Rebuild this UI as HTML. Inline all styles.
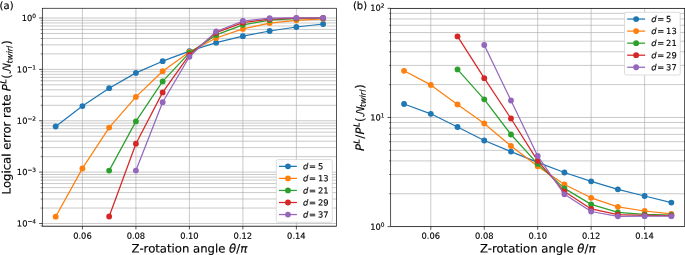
<!DOCTYPE html>
<html><head><meta charset="utf-8"><title>Figure</title>
<style>html,body{margin:0;padding:0;background:#fff}svg{display:block}text{font-family:"DejaVu Sans", "Liberation Sans", sans-serif;fill:#000;stroke:#000;stroke-width:0.15px}</style></head><body>
<svg width="685" height="255" viewBox="0 0 685 255">
<rect width="685" height="255" fill="#fff"/>
<g>
<path d="M82.42 8.25V226.25M135.91 8.25V226.25M189.40 8.25V226.25M242.89 8.25V226.25M296.38 8.25V226.25M42.30 18.00H336.50M42.30 69.38H336.50M42.30 120.76H336.50M42.30 172.14H336.50M42.30 223.52H336.50M42.30 225.87H336.50M42.30 208.05H336.50M42.30 199.01H336.50M42.30 192.59H336.50M42.30 187.61H336.50M42.30 183.54H336.50M42.30 180.10H336.50M42.30 177.12H336.50M42.30 174.49H336.50M42.30 156.67H336.50M42.30 147.63H336.50M42.30 141.21H336.50M42.30 136.23H336.50M42.30 132.16H336.50M42.30 128.72H336.50M42.30 125.74H336.50M42.30 123.11H336.50M42.30 105.29H336.50M42.30 96.25H336.50M42.30 89.83H336.50M42.30 84.85H336.50M42.30 80.78H336.50M42.30 77.34H336.50M42.30 74.36H336.50M42.30 71.73H336.50M42.30 53.91H336.50M42.30 44.87H336.50M42.30 38.45H336.50M42.30 33.47H336.50M42.30 29.40H336.50M42.30 25.96H336.50M42.30 22.98H336.50M42.30 20.35H336.50" stroke="#b0b0b0" stroke-width="0.67" fill="none"/>
<polyline points="55.67,126.50 82.42,106.10 109.16,88.20 135.91,72.90 162.65,61.20 189.40,51.20 216.15,42.70 242.89,36.20 269.64,31.00 296.38,27.00 323.13,24.00" fill="none" stroke="#1f77b4" stroke-width="1.25" stroke-linejoin="round" stroke-linecap="butt"/>
<circle cx="55.67" cy="126.50" r="2.92" fill="#1f77b4"/>
<circle cx="82.42" cy="106.10" r="2.92" fill="#1f77b4"/>
<circle cx="109.16" cy="88.20" r="2.92" fill="#1f77b4"/>
<circle cx="135.91" cy="72.90" r="2.92" fill="#1f77b4"/>
<circle cx="162.65" cy="61.20" r="2.92" fill="#1f77b4"/>
<circle cx="189.40" cy="51.20" r="2.92" fill="#1f77b4"/>
<circle cx="216.15" cy="42.70" r="2.92" fill="#1f77b4"/>
<circle cx="242.89" cy="36.20" r="2.92" fill="#1f77b4"/>
<circle cx="269.64" cy="31.00" r="2.92" fill="#1f77b4"/>
<circle cx="296.38" cy="27.00" r="2.92" fill="#1f77b4"/>
<circle cx="323.13" cy="24.00" r="2.92" fill="#1f77b4"/>
<polyline points="55.67,216.70 82.42,168.40 109.16,127.60 135.91,96.90 162.65,71.20 189.40,52.00 216.15,38.00 242.89,28.90 269.64,23.10 296.38,20.30 323.13,18.80" fill="none" stroke="#ff7f0e" stroke-width="1.25" stroke-linejoin="round" stroke-linecap="butt"/>
<circle cx="55.67" cy="216.70" r="2.92" fill="#ff7f0e"/>
<circle cx="82.42" cy="168.40" r="2.92" fill="#ff7f0e"/>
<circle cx="109.16" cy="127.60" r="2.92" fill="#ff7f0e"/>
<circle cx="135.91" cy="96.90" r="2.92" fill="#ff7f0e"/>
<circle cx="162.65" cy="71.20" r="2.92" fill="#ff7f0e"/>
<circle cx="189.40" cy="52.00" r="2.92" fill="#ff7f0e"/>
<circle cx="216.15" cy="38.00" r="2.92" fill="#ff7f0e"/>
<circle cx="242.89" cy="28.90" r="2.92" fill="#ff7f0e"/>
<circle cx="269.64" cy="23.10" r="2.92" fill="#ff7f0e"/>
<circle cx="296.38" cy="20.30" r="2.92" fill="#ff7f0e"/>
<circle cx="323.13" cy="18.80" r="2.92" fill="#ff7f0e"/>
<polyline points="109.16,170.60 135.91,121.40 162.65,81.40 189.40,52.90 216.15,34.90 242.89,24.80 269.64,20.20 296.38,18.60 323.13,18.20" fill="none" stroke="#2ca02c" stroke-width="1.25" stroke-linejoin="round" stroke-linecap="butt"/>
<circle cx="109.16" cy="170.60" r="2.92" fill="#2ca02c"/>
<circle cx="135.91" cy="121.40" r="2.92" fill="#2ca02c"/>
<circle cx="162.65" cy="81.40" r="2.92" fill="#2ca02c"/>
<circle cx="189.40" cy="52.90" r="2.92" fill="#2ca02c"/>
<circle cx="216.15" cy="34.90" r="2.92" fill="#2ca02c"/>
<circle cx="242.89" cy="24.80" r="2.92" fill="#2ca02c"/>
<circle cx="269.64" cy="20.20" r="2.92" fill="#2ca02c"/>
<circle cx="296.38" cy="18.60" r="2.92" fill="#2ca02c"/>
<circle cx="323.13" cy="18.20" r="2.92" fill="#2ca02c"/>
<polyline points="109.16,216.50 135.91,143.70 162.65,92.40 189.40,54.80 216.15,32.70 242.89,22.60 269.64,19.10 296.38,18.05 323.13,17.90" fill="none" stroke="#d62728" stroke-width="1.25" stroke-linejoin="round" stroke-linecap="butt"/>
<circle cx="109.16" cy="216.50" r="2.92" fill="#d62728"/>
<circle cx="135.91" cy="143.70" r="2.92" fill="#d62728"/>
<circle cx="162.65" cy="92.40" r="2.92" fill="#d62728"/>
<circle cx="189.40" cy="54.80" r="2.92" fill="#d62728"/>
<circle cx="216.15" cy="32.70" r="2.92" fill="#d62728"/>
<circle cx="242.89" cy="22.60" r="2.92" fill="#d62728"/>
<circle cx="269.64" cy="19.10" r="2.92" fill="#d62728"/>
<circle cx="296.38" cy="18.05" r="2.92" fill="#d62728"/>
<circle cx="323.13" cy="17.90" r="2.92" fill="#d62728"/>
<polyline points="135.91,170.60 162.65,102.20 189.40,56.80 216.15,31.50 242.89,21.00 269.64,18.20 296.38,17.85 323.13,17.85" fill="none" stroke="#9467bd" stroke-width="1.25" stroke-linejoin="round" stroke-linecap="butt"/>
<circle cx="135.91" cy="170.60" r="2.92" fill="#9467bd"/>
<circle cx="162.65" cy="102.20" r="2.92" fill="#9467bd"/>
<circle cx="189.40" cy="56.80" r="2.92" fill="#9467bd"/>
<circle cx="216.15" cy="31.50" r="2.92" fill="#9467bd"/>
<circle cx="242.89" cy="21.00" r="2.92" fill="#9467bd"/>
<circle cx="269.64" cy="18.20" r="2.92" fill="#9467bd"/>
<circle cx="296.38" cy="17.85" r="2.92" fill="#9467bd"/>
<circle cx="323.13" cy="17.85" r="2.92" fill="#9467bd"/>
<path d="M82.42 226.25v3.20M135.91 226.25v3.20M189.40 226.25v3.20M242.89 226.25v3.20M296.38 226.25v3.20M42.30 18.00h-3.20M42.30 69.38h-3.20M42.30 120.76h-3.20M42.30 172.14h-3.20M42.30 223.52h-3.20" stroke="#000" stroke-width="0.67" fill="none"/>
<path d="M42.30 225.87h-1.67M42.30 208.05h-1.67M42.30 199.01h-1.67M42.30 192.59h-1.67M42.30 187.61h-1.67M42.30 183.54h-1.67M42.30 180.10h-1.67M42.30 177.12h-1.67M42.30 174.49h-1.67M42.30 156.67h-1.67M42.30 147.63h-1.67M42.30 141.21h-1.67M42.30 136.23h-1.67M42.30 132.16h-1.67M42.30 128.72h-1.67M42.30 125.74h-1.67M42.30 123.11h-1.67M42.30 105.29h-1.67M42.30 96.25h-1.67M42.30 89.83h-1.67M42.30 84.85h-1.67M42.30 80.78h-1.67M42.30 77.34h-1.67M42.30 74.36h-1.67M42.30 71.73h-1.67M42.30 53.91h-1.67M42.30 44.87h-1.67M42.30 38.45h-1.67M42.30 33.47h-1.67M42.30 29.40h-1.67M42.30 25.96h-1.67M42.30 22.98h-1.67M42.30 20.35h-1.67" stroke="#000" stroke-width="0.50" fill="none"/>
<rect x="42.30" y="8.25" width="294.20" height="218.00" fill="none" stroke="#000" stroke-width="0.67"/>
<text x="82.42" y="238.78" transform="rotate(0.03 82.42 238.78)" font-size="8.33" text-anchor="middle">0.06</text>
<text x="135.91" y="238.78" transform="rotate(0.03 135.91 238.78)" font-size="8.33" text-anchor="middle">0.08</text>
<text x="189.40" y="238.78" transform="rotate(0.03 189.40 238.78)" font-size="8.33" text-anchor="middle">0.10</text>
<text x="242.89" y="238.78" transform="rotate(0.03 242.89 238.78)" font-size="8.33" text-anchor="middle">0.12</text>
<text x="296.38" y="238.78" transform="rotate(0.03 296.38 238.78)" font-size="8.33" text-anchor="middle">0.14</text>
<text x="36.07" y="20.90" transform="rotate(0.03 36.07 20.90)" font-size="8.33" text-anchor="end">10<tspan font-size="5.83" dy="-3.00">0</tspan></text>
<text x="36.07" y="72.58" transform="rotate(0.03 36.07 72.58)" font-size="8.33" text-anchor="end">10<tspan font-size="5.83" dy="-3.00">−1</tspan></text>
<text x="36.07" y="123.76" transform="rotate(0.03 36.07 123.76)" font-size="8.33" text-anchor="end">10<tspan font-size="5.83" dy="-3.00">−2</tspan></text>
<text x="36.07" y="175.14" transform="rotate(0.03 36.07 175.14)" font-size="8.33" text-anchor="end">10<tspan font-size="5.83" dy="-3.00">−3</tspan></text>
<text x="36.07" y="226.52" transform="rotate(0.03 36.07 226.52)" font-size="8.33" text-anchor="end">10<tspan font-size="5.83" dy="-3.00">−4</tspan></text>
<text x="189.40" y="252.60" transform="rotate(0.03 189.40 252.60)" font-size="11.67" text-anchor="middle">Z-rotation angle <tspan font-style="italic">θ</tspan>/<tspan font-style="italic">π</tspan></text>
<rect x="276.30" y="159.60" width="56.00" height="62.70" rx="1.67" ry="1.67" fill="#fff" fill-opacity="0.97" stroke="#ccc" stroke-opacity="0.8" stroke-width="0.83"/>
<path d="M279.63 166.35h16.66" stroke="#1f77b4" stroke-width="1.25" stroke-linecap="square"/>
<circle cx="287.96" cy="166.35" r="2.92" fill="#1f77b4"/>
<text x="302.96" y="169.30" transform="rotate(0.03 302.96 169.30)" font-size="8.33"><tspan font-style="italic">d</tspan><tspan dx="0.8">=</tspan><tspan dx="1.85">5</tspan></text>
<path d="M279.63 178.40h16.66" stroke="#ff7f0e" stroke-width="1.25" stroke-linecap="square"/>
<circle cx="287.96" cy="178.40" r="2.92" fill="#ff7f0e"/>
<text x="302.96" y="181.35" transform="rotate(0.03 302.96 181.35)" font-size="8.33"><tspan font-style="italic">d</tspan><tspan dx="0.8">=</tspan><tspan dx="1.85">13</tspan></text>
<path d="M279.63 190.45h16.66" stroke="#2ca02c" stroke-width="1.25" stroke-linecap="square"/>
<circle cx="287.96" cy="190.45" r="2.92" fill="#2ca02c"/>
<text x="302.96" y="193.40" transform="rotate(0.03 302.96 193.40)" font-size="8.33"><tspan font-style="italic">d</tspan><tspan dx="0.8">=</tspan><tspan dx="1.85">21</tspan></text>
<path d="M279.63 202.50h16.66" stroke="#d62728" stroke-width="1.25" stroke-linecap="square"/>
<circle cx="287.96" cy="202.50" r="2.92" fill="#d62728"/>
<text x="302.96" y="205.45" transform="rotate(0.03 302.96 205.45)" font-size="8.33"><tspan font-style="italic">d</tspan><tspan dx="0.8">=</tspan><tspan dx="1.85">29</tspan></text>
<path d="M279.63 214.55h16.66" stroke="#9467bd" stroke-width="1.25" stroke-linecap="square"/>
<circle cx="287.96" cy="214.55" r="2.92" fill="#9467bd"/>
<text x="302.96" y="217.50" transform="rotate(0.03 302.96 217.50)" font-size="8.33"><tspan font-style="italic">d</tspan><tspan dx="0.8">=</tspan><tspan dx="1.85">37</tspan></text>
<text transform="translate(10.60 194.40) rotate(-90.03)" font-size="11.67"><tspan x="0">Logical error rate </tspan><tspan x="103.20" font-style="italic">P</tspan><tspan x="110.60" font-style="italic" font-size="8.17" dy="-4.3">L</tspan><tspan x="115.70" dy="4.3">(</tspan><tspan font-family="'DejaVu Math TeX Gyre', 'DejaVu Serif', serif" font-size="10.5">𝒩</tspan><tspan x="131.00" font-style="italic" font-size="8.17" dy="1.9">twirl</tspan><tspan x="149.60" dy="-1.9">)</tspan></text>
</g>
<g>
<path d="M430.79 8.35V226.60M484.25 8.35V226.60M537.70 8.35V226.60M591.15 8.35V226.60M644.61 8.35V226.60M390.70 226.60H684.70M390.70 117.47H684.70M390.70 8.35H684.70M390.70 193.75H684.70M390.70 174.53H684.70M390.70 160.90H684.70M390.70 150.32H684.70M390.70 141.68H684.70M390.70 134.38H684.70M390.70 128.05H684.70M390.70 122.47H684.70M390.70 84.63H684.70M390.70 65.41H684.70M390.70 51.78H684.70M390.70 41.20H684.70M390.70 32.56H684.70M390.70 25.25H684.70M390.70 18.93H684.70M390.70 13.34H684.70" stroke="#b0b0b0" stroke-width="0.67" fill="none"/>
<polyline points="404.06,104.00 430.79,113.80 457.52,127.00 484.25,140.50 510.97,151.60 537.70,162.30 564.43,172.50 591.15,181.30 617.88,189.30 644.61,196.00 671.34,202.60" fill="none" stroke="#1f77b4" stroke-width="1.25" stroke-linejoin="round" stroke-linecap="butt"/>
<circle cx="404.06" cy="104.00" r="2.92" fill="#1f77b4"/>
<circle cx="430.79" cy="113.80" r="2.92" fill="#1f77b4"/>
<circle cx="457.52" cy="127.00" r="2.92" fill="#1f77b4"/>
<circle cx="484.25" cy="140.50" r="2.92" fill="#1f77b4"/>
<circle cx="510.97" cy="151.60" r="2.92" fill="#1f77b4"/>
<circle cx="537.70" cy="162.30" r="2.92" fill="#1f77b4"/>
<circle cx="564.43" cy="172.50" r="2.92" fill="#1f77b4"/>
<circle cx="591.15" cy="181.30" r="2.92" fill="#1f77b4"/>
<circle cx="617.88" cy="189.30" r="2.92" fill="#1f77b4"/>
<circle cx="644.61" cy="196.00" r="2.92" fill="#1f77b4"/>
<circle cx="671.34" cy="202.60" r="2.92" fill="#1f77b4"/>
<polyline points="404.06,70.80 430.79,84.90 457.52,104.40 484.25,123.40 510.97,146.00 537.70,166.30 564.43,184.50 591.15,197.80 617.88,206.80 644.61,211.00 671.34,213.80" fill="none" stroke="#ff7f0e" stroke-width="1.25" stroke-linejoin="round" stroke-linecap="butt"/>
<circle cx="404.06" cy="70.80" r="2.92" fill="#ff7f0e"/>
<circle cx="430.79" cy="84.90" r="2.92" fill="#ff7f0e"/>
<circle cx="457.52" cy="104.40" r="2.92" fill="#ff7f0e"/>
<circle cx="484.25" cy="123.40" r="2.92" fill="#ff7f0e"/>
<circle cx="510.97" cy="146.00" r="2.92" fill="#ff7f0e"/>
<circle cx="537.70" cy="166.30" r="2.92" fill="#ff7f0e"/>
<circle cx="564.43" cy="184.50" r="2.92" fill="#ff7f0e"/>
<circle cx="591.15" cy="197.80" r="2.92" fill="#ff7f0e"/>
<circle cx="617.88" cy="206.80" r="2.92" fill="#ff7f0e"/>
<circle cx="644.61" cy="211.00" r="2.92" fill="#ff7f0e"/>
<circle cx="671.34" cy="213.80" r="2.92" fill="#ff7f0e"/>
<polyline points="457.52,69.40 484.25,99.30 510.97,134.50 537.70,163.90 564.43,188.40 591.15,204.40 617.88,212.30 644.61,214.40 671.34,215.00" fill="none" stroke="#2ca02c" stroke-width="1.25" stroke-linejoin="round" stroke-linecap="butt"/>
<circle cx="457.52" cy="69.40" r="2.92" fill="#2ca02c"/>
<circle cx="484.25" cy="99.30" r="2.92" fill="#2ca02c"/>
<circle cx="510.97" cy="134.50" r="2.92" fill="#2ca02c"/>
<circle cx="537.70" cy="163.90" r="2.92" fill="#2ca02c"/>
<circle cx="564.43" cy="188.40" r="2.92" fill="#2ca02c"/>
<circle cx="591.15" cy="204.40" r="2.92" fill="#2ca02c"/>
<circle cx="617.88" cy="212.30" r="2.92" fill="#2ca02c"/>
<circle cx="644.61" cy="214.40" r="2.92" fill="#2ca02c"/>
<circle cx="671.34" cy="215.00" r="2.92" fill="#2ca02c"/>
<polyline points="457.52,36.40 484.25,78.20 510.97,118.50 537.70,160.80 564.43,191.60 591.15,208.90 617.88,214.70 644.61,215.30 671.34,215.60" fill="none" stroke="#d62728" stroke-width="1.25" stroke-linejoin="round" stroke-linecap="butt"/>
<circle cx="457.52" cy="36.40" r="2.92" fill="#d62728"/>
<circle cx="484.25" cy="78.20" r="2.92" fill="#d62728"/>
<circle cx="510.97" cy="118.50" r="2.92" fill="#d62728"/>
<circle cx="537.70" cy="160.80" r="2.92" fill="#d62728"/>
<circle cx="564.43" cy="191.60" r="2.92" fill="#d62728"/>
<circle cx="591.15" cy="208.90" r="2.92" fill="#d62728"/>
<circle cx="617.88" cy="214.70" r="2.92" fill="#d62728"/>
<circle cx="644.61" cy="215.30" r="2.92" fill="#d62728"/>
<circle cx="671.34" cy="215.60" r="2.92" fill="#d62728"/>
<polyline points="484.25,45.00 510.97,100.50 537.70,156.00 564.43,194.30 591.15,211.50 617.88,216.30 644.61,216.20 671.34,216.20" fill="none" stroke="#9467bd" stroke-width="1.25" stroke-linejoin="round" stroke-linecap="butt"/>
<circle cx="484.25" cy="45.00" r="2.92" fill="#9467bd"/>
<circle cx="510.97" cy="100.50" r="2.92" fill="#9467bd"/>
<circle cx="537.70" cy="156.00" r="2.92" fill="#9467bd"/>
<circle cx="564.43" cy="194.30" r="2.92" fill="#9467bd"/>
<circle cx="591.15" cy="211.50" r="2.92" fill="#9467bd"/>
<circle cx="617.88" cy="216.30" r="2.92" fill="#9467bd"/>
<circle cx="644.61" cy="216.20" r="2.92" fill="#9467bd"/>
<circle cx="671.34" cy="216.20" r="2.92" fill="#9467bd"/>
<path d="M430.79 226.60v3.20M484.25 226.60v3.20M537.70 226.60v3.20M591.15 226.60v3.20M644.61 226.60v3.20M390.70 226.60h-3.20M390.70 117.47h-3.20M390.70 8.35h-3.20" stroke="#000" stroke-width="0.67" fill="none"/>
<path d="M390.70 193.75h-1.67M390.70 174.53h-1.67M390.70 160.90h-1.67M390.70 150.32h-1.67M390.70 141.68h-1.67M390.70 134.38h-1.67M390.70 128.05h-1.67M390.70 122.47h-1.67M390.70 84.63h-1.67M390.70 65.41h-1.67M390.70 51.78h-1.67M390.70 41.20h-1.67M390.70 32.56h-1.67M390.70 25.25h-1.67M390.70 18.93h-1.67M390.70 13.34h-1.67" stroke="#000" stroke-width="0.50" fill="none"/>
<rect x="390.70" y="8.35" width="294.00" height="218.25" fill="none" stroke="#000" stroke-width="0.67"/>
<text x="430.79" y="238.78" transform="rotate(0.03 430.79 238.78)" font-size="8.33" text-anchor="middle">0.06</text>
<text x="484.25" y="238.78" transform="rotate(0.03 484.25 238.78)" font-size="8.33" text-anchor="middle">0.08</text>
<text x="537.70" y="238.78" transform="rotate(0.03 537.70 238.78)" font-size="8.33" text-anchor="middle">0.10</text>
<text x="591.15" y="238.78" transform="rotate(0.03 591.15 238.78)" font-size="8.33" text-anchor="middle">0.12</text>
<text x="644.61" y="238.78" transform="rotate(0.03 644.61 238.78)" font-size="8.33" text-anchor="middle">0.14</text>
<text x="384.47" y="229.75" transform="rotate(0.03 384.47 229.75)" font-size="8.33" text-anchor="end">10<tspan font-size="5.83" dy="-3.00">0</tspan></text>
<text x="384.47" y="120.62" transform="rotate(0.03 384.47 120.62)" font-size="8.33" text-anchor="end">10<tspan font-size="5.83" dy="-3.00">1</tspan></text>
<text x="384.47" y="10.70" transform="rotate(0.03 384.47 10.70)" font-size="8.33" text-anchor="end">10<tspan font-size="5.83" dy="-3.00">2</tspan></text>
<text x="537.70" y="252.60" transform="rotate(0.03 537.70 252.60)" font-size="11.67" text-anchor="middle">Z-rotation angle <tspan font-style="italic">θ</tspan>/<tspan font-style="italic">π</tspan></text>
<rect x="624.50" y="12.30" width="55.70" height="62.70" rx="1.67" ry="1.67" fill="#fff" fill-opacity="0.97" stroke="#ccc" stroke-opacity="0.8" stroke-width="0.83"/>
<path d="M627.83 19.05h16.66" stroke="#1f77b4" stroke-width="1.25" stroke-linecap="square"/>
<circle cx="636.16" cy="19.05" r="2.92" fill="#1f77b4"/>
<text x="651.16" y="22.00" transform="rotate(0.03 651.16 22.00)" font-size="8.33"><tspan font-style="italic">d</tspan><tspan dx="0.8">=</tspan><tspan dx="1.85">5</tspan></text>
<path d="M627.83 31.10h16.66" stroke="#ff7f0e" stroke-width="1.25" stroke-linecap="square"/>
<circle cx="636.16" cy="31.10" r="2.92" fill="#ff7f0e"/>
<text x="651.16" y="34.05" transform="rotate(0.03 651.16 34.05)" font-size="8.33"><tspan font-style="italic">d</tspan><tspan dx="0.8">=</tspan><tspan dx="1.85">13</tspan></text>
<path d="M627.83 43.15h16.66" stroke="#2ca02c" stroke-width="1.25" stroke-linecap="square"/>
<circle cx="636.16" cy="43.15" r="2.92" fill="#2ca02c"/>
<text x="651.16" y="46.10" transform="rotate(0.03 651.16 46.10)" font-size="8.33"><tspan font-style="italic">d</tspan><tspan dx="0.8">=</tspan><tspan dx="1.85">21</tspan></text>
<path d="M627.83 55.20h16.66" stroke="#d62728" stroke-width="1.25" stroke-linecap="square"/>
<circle cx="636.16" cy="55.20" r="2.92" fill="#d62728"/>
<text x="651.16" y="58.15" transform="rotate(0.03 651.16 58.15)" font-size="8.33"><tspan font-style="italic">d</tspan><tspan dx="0.8">=</tspan><tspan dx="1.85">29</tspan></text>
<path d="M627.83 67.25h16.66" stroke="#9467bd" stroke-width="1.25" stroke-linecap="square"/>
<circle cx="636.16" cy="67.25" r="2.92" fill="#9467bd"/>
<text x="651.16" y="70.20" transform="rotate(0.03 651.16 70.20)" font-size="8.33"><tspan font-style="italic">d</tspan><tspan dx="0.8">=</tspan><tspan dx="1.85">37</tspan></text>
<text transform="translate(363.90 151.10) rotate(-90.03)" font-size="11.67"><tspan x="0" font-style="italic">P</tspan><tspan x="7.4" font-style="italic" font-size="8.17" dy="-4.3">L</tspan><tspan x="12.3" dy="4.3">/</tspan><tspan x="16.60" font-style="italic">P</tspan><tspan x="24.00" font-style="italic" font-size="8.17" dy="-4.3">L</tspan><tspan x="29.10" dy="4.3">(</tspan><tspan font-family="'DejaVu Math TeX Gyre', 'DejaVu Serif', serif" font-size="10.5">𝒩</tspan><tspan x="43.80" font-style="italic" font-size="8.17" dy="1.9">twirl</tspan><tspan x="62.40" dy="-1.9">)</tspan></text>
</g>
<text x="-0.4" y="8.9" transform="rotate(0.03 0 8.9)" font-size="10">(a)</text>
<text x="352.9" y="8.9" transform="rotate(0.03 353 8.9)" font-size="10">(b)</text>
</svg></body></html>
